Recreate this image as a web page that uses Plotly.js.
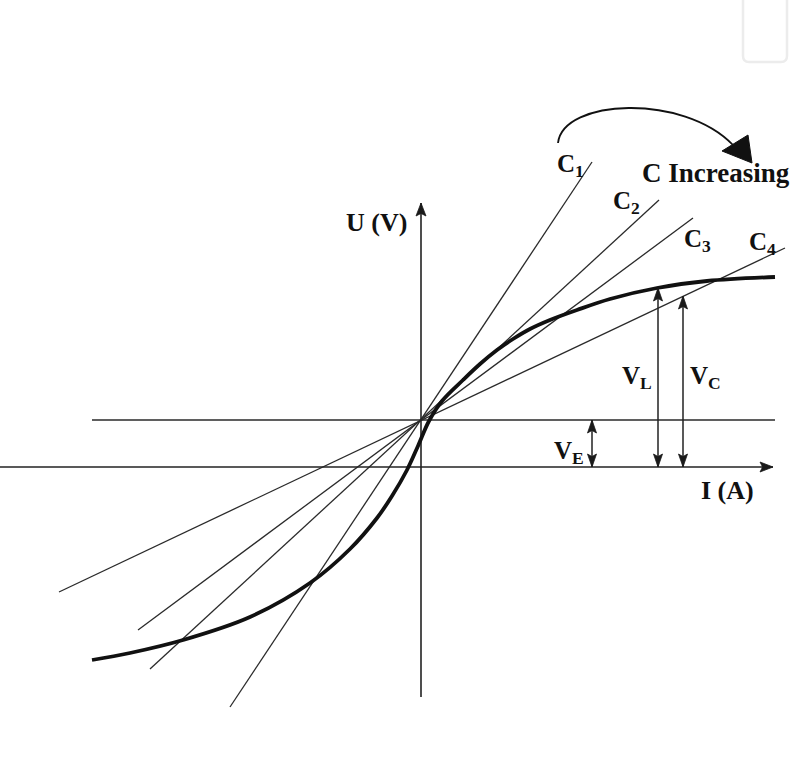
<!DOCTYPE html>
<html>
<head>
<meta charset="utf-8">
<script src="https://cdn.plot.ly/plotly-3.0.1.min.js"></script>
<style>
  html, body { margin: 0; padding: 0; background: #ffffff; }
  #chart { width: 808px; height: 762px; }
</style>
</head>
<body>
<div id="chart"></div>
<script>
// ---- Data (schematic units) ----
// Nonlinear U–I characteristic (thick S-curve)
const curveI = [-3.29, -2.91, -2.38, -1.71, -1.11, -0.71, -0.44, -0.29, -0.14, -0.03, 0.08, 0.21, 0.42, 0.59, 0.76, 0.92, 1.09, 1.29, 1.56, 1.89, 2.36, 2.86, 3.54];
const curveU = [-1.93, -1.86, -1.73, -1.50, -1.16, -0.82, -0.51, -0.29, -0.03, 0.21, 0.46, 0.66, 0.87, 1.03, 1.17, 1.28, 1.38, 1.47, 1.57, 1.68, 1.79, 1.86, 1.90];

// Straight load lines C1..C4 (through the V_E point)
const capNames  = ['C<sub>1</sub>', 'C<sub>2</sub>', 'C<sub>3</sub>', 'C<sub>4</sub>'];
const capStartI = [-1.91, -2.71, -2.83, -3.62];
const capStartU = [-2.40, -2.02, -1.63, -1.25];
const capEndI   = [1.71, 2.38, 2.72, 3.64];
const capEndU   = [3.05, 2.67, 2.49, 2.19];

// Axes extents
const iAxisRange = [-4.21, 3.52];
const uAxisRange = [-2.30, 2.64];

// Offset level V_E
const veLevel = 0.47;
const veLineRange = [-3.29, 3.54];

// Voltage markers: name, I position, top U (bottom is U = 0)
const markerNames = ['V<sub>E</sub>', 'V<sub>L</sub>', 'V<sub>C</sub>'];
const markerI     = [1.71, 2.37, 2.62];
const markerTopU  = [0.47, 1.79, 1.71];

// Axis labels
const xAxisLabel = 'I (A)';
const yAxisLabel = 'U (V)';
const trendLabel = 'C Increasing';

// ---- helpers ----
const PX = 100; // pixels per data unit (both axes, by layout below)
function arrowHead(tipX, tipY, dirX, dirY, lenPx, halfPx) {
  const n = Math.hypot(dirX, dirY);
  const ux = dirX / n, uy = dirY / n;
  const px = -uy, py = ux;
  const L = lenPx / PX, W = halfPx / PX, N = (lenPx * 0.8) / PX;
  const bx = tipX - ux * L, by = tipY - uy * L;
  const nx = tipX - ux * N, ny = tipY - uy * N;
  const f = v => v.toFixed(4);
  return {
    type: 'path', xref: 'x', yref: 'y',
    path: 'M ' + f(tipX) + ',' + f(tipY) +
          ' L ' + f(bx + px * W) + ',' + f(by + py * W) +
          ' L ' + f(nx) + ',' + f(ny) +
          ' L ' + f(bx - px * W) + ',' + f(by - py * W) + ' Z',
    fillcolor: '#1a1a1a', line: { color: '#1a1a1a', width: 0.8 }
  };
}
const thin = { color: '#2a2a2a', width: 1.3 };
const axisLine = { color: '#222222', width: 1.6 };

// ---- Traces ----
const traces = [];
for (let k = 0; k < capNames.length; k++) {
  traces.push({
    type: 'scatter', mode: 'lines',
    x: [capStartI[k], capEndI[k]], y: [capStartU[k], capEndU[k]],
    line: thin, hoverinfo: 'skip', showlegend: false
  });
}
traces.push({ type: 'scatter', mode: 'lines', x: veLineRange, y: [veLevel, veLevel],
  line: { color: '#2a2a2a', width: 1.5 }, hoverinfo: 'skip', showlegend: false });
traces.push({ type: 'scatter', mode: 'lines', x: iAxisRange, y: [0, 0],
  line: axisLine, hoverinfo: 'skip', showlegend: false });
traces.push({ type: 'scatter', mode: 'lines', x: [0, 0], y: uAxisRange,
  line: axisLine, hoverinfo: 'skip', showlegend: false });
for (let k = 0; k < markerNames.length; k++) {
  traces.push({ type: 'scatter', mode: 'lines', x: [markerI[k], markerI[k]], y: [0, markerTopU[k]],
    line: { color: '#222222', width: 1.5 }, hoverinfo: 'skip', showlegend: false });
}
traces.push({
  type: 'scatter', mode: 'lines', x: curveI, y: curveU,
  line: { color: '#111111', width: 3.8, shape: 'spline', smoothing: 1.0 },
  hoverinfo: 'skip', showlegend: false
});

// ---- Shapes ----
const shapes = [];
shapes.push(arrowHead(iAxisRange[1], 0, 1, 0, 13, 5));
shapes.push(arrowHead(0, uAxisRange[1], 0, 1, 13, 5));
for (let k = 0; k < markerNames.length; k++) {
  shapes.push(arrowHead(markerI[k], markerTopU[k], 0, 1, 13, 4.5));
  shapes.push(arrowHead(markerI[k], 0, 0, -1, 13, 4.5));
}
// curved "C increasing" arrow
shapes.push({ type: 'path', xref: 'x', yref: 'y',
  path: 'M 1.37,3.24 C 1.42,3.68 2.62,3.74 3.12,3.22',
  line: { color: '#111', width: 1.8 } });
shapes.push({ type: 'path', xref: 'x', yref: 'y',
  path: 'M 3.01,3.16 L 3.27,3.32 L 3.31,3.04 Z',
  fillcolor: '#111', line: { color: '#111', width: 1 } });
// faint UI box at top right
shapes.push({ type: 'path', xref: 'x', yref: 'y',
  path: 'M 3.22,4.72 L 3.22,4.11 Q 3.22,4.05 3.28,4.05 L 3.60,4.05 Q 3.66,4.05 3.66,4.11 L 3.66,4.72',
  line: { color: '#ececec', width: 2.5 } });

// ---- Text labels ----
const font = { family: '"Liberation Serif", "DejaVu Serif", serif', size: 25, color: '#111111' };
const annotations = [];
const capLabelPos = [[1.49, 3.02], [2.05, 2.65], [2.76, 2.27], [3.41, 2.24]];
for (let k = 0; k < capNames.length; k++) {
  annotations.push({ x: capLabelPos[k][0], y: capLabelPos[k][1], xref: 'x', yref: 'y',
    text: '<b>' + capNames[k] + '</b>', showarrow: false, font: font });
}
const markerLabelPos = [[1.48, 0.15], [2.16, 0.90], [2.84, 0.90]];
for (let k = 0; k < markerNames.length; k++) {
  annotations.push({ x: markerLabelPos[k][0], y: markerLabelPos[k][1], xref: 'x', yref: 'y',
    text: '<b>' + markerNames[k] + '</b>', showarrow: false, font: font });
}
annotations.push({ x: 2.95, y: 2.94, xref: 'x', yref: 'y', text: '<b>' + trendLabel + '</b>',
  showarrow: false, font: Object.assign({}, font, { size: 27 }) });
annotations.push({ x: -0.45, y: 2.45, xref: 'x', yref: 'y', text: '<b>' + yAxisLabel + '</b>',
  showarrow: false, font: Object.assign({}, font, { size: 26 }) });
annotations.push({ x: 3.06, y: -0.23, xref: 'x', yref: 'y', text: '<b>' + xAxisLabel + '</b>',
  showarrow: false, font: Object.assign({}, font, { size: 26 }) });

const layout = {
  width: 808, height: 762, autosize: false,
  margin: { l: 0, r: 0, t: 0, b: 0, pad: 0 },
  paper_bgcolor: '#ffffff', plot_bgcolor: '#ffffff',
  showlegend: false,
  xaxis: { range: [-4.21, 3.87], visible: false, fixedrange: true },
  yaxis: { range: [-2.95, 4.67], visible: false, fixedrange: true },
  annotations: annotations,
  shapes: shapes
};

Plotly.newPlot('chart', traces, layout, { displayModeBar: false, staticPlot: true });
</script>
</body>
</html>
